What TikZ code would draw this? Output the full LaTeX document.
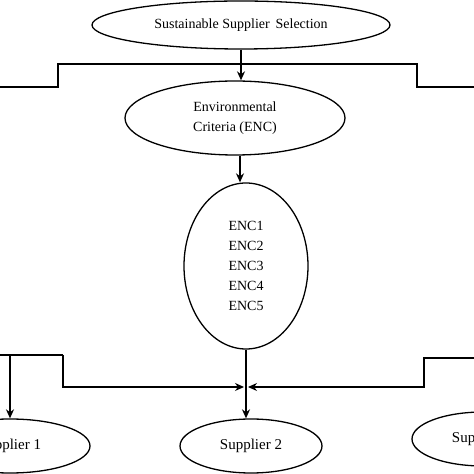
\documentclass[tikz,border=0pt]{standalone}
\usepackage{fontspec}
\setmainfont{Liberation Serif}
\usepackage{tikz}
\usetikzlibrary{shapes.geometric, arrows, arrows.meta}
\tikzstyle{oval} = [ellipse, draw=black, line width=1.3pt, inner sep=1pt, align=center, font=\fontsize{14}{19.5}\selectfont]
\tikzstyle{supplier} = [oval, minimum width=142pt, minimum height=54pt, font=\fontsize{15}{18}\selectfont]
\tikzstyle{arrow} = [line width=1.3pt,->,>={Stealth[length=9pt,width=8pt]}]
\tikzstyle{line} = [line width=1.3pt]

\begin{document}
\begin{tikzpicture}[x=1pt, y=1pt]
			\useasboundingbox (0,0) rectangle (474,474);
			\node[oval, minimum width=298pt, minimum height=48pt] (1) at (241,449) {Sustainable Supplier\, Selection};
			\node[oval, minimum width=220pt, minimum height=74pt] (2) at (235,356) {Environmental\\Criteria (ENC)};
			\node[oval, minimum width=124pt, minimum height=166pt, font=\fontsize{14}{20}\selectfont] (3) at (246,208) {ENC1\\ENC2\\ENC3\\ENC4\\ENC5};
			\node[supplier, minimum width=160pt] (4) at (10,28) {Supplier 1};
			\node[supplier] (5) at (251,28) {Supplier 2};
			\node[supplier] (6) at (483,35) {Supplier 3};
			
			\coordinate (m) at (246,87);
			\coordinate (l) at (10,119);
			
			\draw [line] (0,387) -- (58,387) -- (58,410) -- (417,410) -- (417,387) -- (474,387);
			\draw [arrow] (1.south) -- (1.south |- 2.north);
			\draw [arrow] ([xshift=5pt]2.south) -- ([xshift=-6pt]3.north);
			\draw [arrow] (3.south) -- (3.south |- 5.north);
			
			\draw [line] (0,119) -- (63,119);
			\draw [arrow] (63,119) -- (63,87) -- ([xshift=-2pt]m);
			\draw [arrow] (l) -- (4.north);
			\draw [arrow] (474,116) -- (424,116) -- (424,87) -- ([xshift=2pt]m);
			
		\end{tikzpicture}
\end{document}
